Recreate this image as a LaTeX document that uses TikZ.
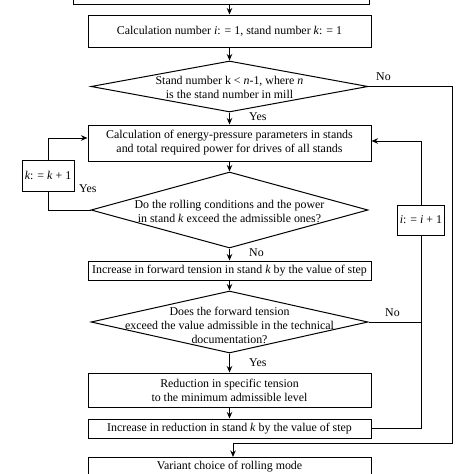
\documentclass[tikz,border=0pt]{standalone}
\usepackage{fontspec}
\setmainfont{Liberation Serif}
\usetikzlibrary{shapes.geometric,arrows.meta}
\begin{document}
\begin{tikzpicture}[x=1pt,y=-1pt,
  every node/.style={font=\fontsize{11.9}{14}\selectfont},
  box/.style={draw,rectangle,minimum width=283pt,inner sep=0pt,align=center,line width=1pt},
  dia/.style={draw,diamond,minimum width=277pt,inner sep=0pt,line width=1pt},
  txt/.style={align=center,inner sep=0pt},
  lab/.style={inner sep=0pt,anchor=west},
  line/.style={line width=1pt},
  arr/.style={line width=1pt,-{Stealth[length=6.5pt,width=5.5pt]}}]
\clip (0,0) rectangle (474,474);
\node[box,minimum width=296pt,minimum height=30pt,anchor=south] (top) at (221,5) {};
\node[box,minimum height=32pt] (b2) at (229.5,31) {Calculation number \textit{i}: = 1, stand number \textit{k}: = 1};
\node[dia,minimum height=51pt] (d1) at (229.5,86.5) {};
\node[txt] (d1t) at (229.5,87) {Stand number k < \textit{n}-1, where \textit{n}\\is the stand number in mill};
\node[box,minimum height=36pt] (b3) at (229.5,143) {Calculation of energy-pressure parameters in stands\\and total required power for drives of all stands};
\node[dia,minimum height=76pt] (d2) at (229.5,210) {};
\node[txt] (d2t) at (229.5,211) {Do the rolling conditions and the power\\in stand \textit{k} exceed the admissible ones?};
\node[box,minimum height=19pt] (b4) at (229.5,270.5) {Increase in forward tension in stand \textit{k} by the value of step};
\node[dia,minimum height=62pt] (d3) at (229.5,322) {};
\node[txt] (d3t) at (229.5,325) {Does the forward tension\\exceed the value admissible in the technical\\documentation?};
\node[box,minimum height=34pt] (b5) at (229.5,390) {Reduction in specific tension\\to the minimum admissible level};
\node[box,minimum height=19pt] (b6) at (229.5,428.5) {Increase in reduction in stand \textit{k} by the value of step};
\node[box,anchor=north,inner ysep=4pt,text depth=30pt] (b7) at (229.5,457) {Variant choice of rolling mode};
\node[box,minimum width=52pt,minimum height=31pt] (kb) at (48,175.5) {\textit{k}: = \textit{k} + 1};
\node[box,minimum width=47pt,minimum height=30pt] (ib) at (421,220) {\textit{i}: = \textit{i} + 1};
% labels
\node[lab] (l1) at (376,77) {No};
\node[lab] (l2) at (249,117) {Yes};
\node[lab] (l3) at (79,189) {Yes};
\node[lab] (l4) at (249,253) {No};
\node[lab] (l5) at (385,313) {No};
\node[lab] (l6) at (249,363) {Yes};
% coordinates
\coordinate (c1) at (452,86.5);
\coordinate (c2) at (452,443);
\coordinate (c3) at (233,443);
\coordinate (k2) at (48,138);
\coordinate (i2) at (421,141);
% connectors
\draw[arr] (b2.north |- top.south) -- (b2.north);
\draw[arr] (b2.south) -- (d1.north);
\draw[arr] (d1.south) -- (b3.north);
\draw[arr] (b3.south) -- (d2.north);
\draw[arr] (d2.south) -- (b4.north);
\draw[arr] (b4.south) -- (d3.north);
\draw[arr] (d3.south) -- (b5.north);
\draw[arr] (b5.south) -- (b6.north);
\draw[arr] (d1.east) -- (c1) -- (c2) -- (c3) -- (c3 |- b7.north);
\draw[line] (d2.west) -- (kb.south |- d2.west) -- (kb.south);
\draw[arr] (kb.north) -- (k2) -- (b3.west |- k2);
\draw[arr] (ib.north) -- (i2) -- (b3.east |- i2);
\draw[line] (b6.east) -- (ib.south |- b6.east) -- (ib.south);
\draw[line] (d3.east) -- (ib.south |- d3.east);
\end{tikzpicture}
\end{document}
